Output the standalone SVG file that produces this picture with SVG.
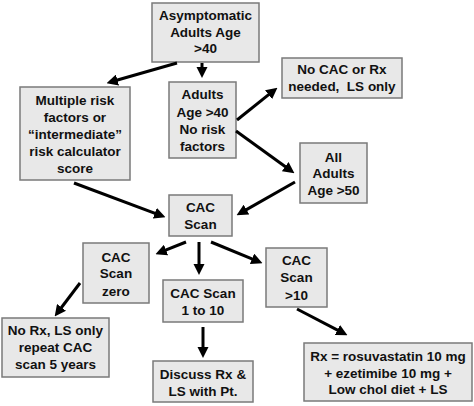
<svg xmlns="http://www.w3.org/2000/svg" width="474" height="406" viewBox="0 0 474 406">
<style>
.box{fill:#e8e8e8;stroke:#7a7a7a;stroke-width:1.5}
.t{font-family:"Liberation Sans",Arial,sans-serif;font-weight:bold;font-size:13.5px;fill:#111;text-anchor:middle}
.arr{stroke:#000;stroke-width:3;fill:none;marker-end:url(#ah)}
</style>
<defs>
<marker id="ah" viewBox="0 0 10 10" refX="4" refY="5" markerWidth="3.8" markerHeight="3.8" orient="auto" markerUnits="strokeWidth">
<path d="M0,0 L10,5 L0,10 Z" fill="#000"/>
</marker>
</defs>
<rect width="474" height="406" fill="#fff"/>
<g id="n1"><rect class="box" x="152" y="3" width="107" height="59"/><text class="t" x="205.5" y="20">Asymptomatic</text><text class="t" x="205.5" y="37">Adults Age</text><text class="t" x="205.5" y="53">&gt;40</text></g>
<g id="n2"><rect class="box" x="20" y="87" width="110" height="93"/><text class="t" x="75" y="105">Multiple risk</text><text class="t" x="75" y="122">factors or</text><text class="t" x="75" y="139">“intermediate”</text><text class="t" x="75" y="156">risk calculator</text><text class="t" x="75" y="173">score</text></g>
<g id="n3"><rect class="box" x="169" y="82" width="67" height="76"/><text class="t" x="202.5" y="99">Adults</text><text class="t" x="202.5" y="117">Age &gt;40</text><text class="t" x="202.5" y="134">No risk</text><text class="t" x="202.5" y="151">factors</text></g>
<g id="n4"><rect class="box" x="282" y="58" width="120" height="40"/><text class="t" x="342" y="74">No CAC or Rx</text><text class="t" x="342" y="91">needed,&#160; LS only</text></g>
<g id="n5"><rect class="box" x="300" y="143" width="67" height="60"/><text class="t" x="333.5" y="162">All</text><text class="t" x="333.5" y="178">Adults</text><text class="t" x="333.5" y="195">Age &gt;50</text></g>
<g id="n6"><rect class="box" x="169" y="195" width="63" height="41"/><text class="t" x="200.5" y="212">CAC</text><text class="t" x="200.5" y="229">Scan</text></g>
<g id="n7"><rect class="box" x="83" y="243" width="66" height="60"/><text class="t" x="116" y="262">CAC</text><text class="t" x="116" y="278">Scan</text><text class="t" x="116" y="296">zero</text></g>
<g id="n8"><rect class="box" x="163" y="280" width="80" height="42"/><text class="t" x="203" y="298">CAC Scan</text><text class="t" x="203" y="315">1 to 10</text></g>
<g id="n9"><rect class="box" x="266" y="248" width="61" height="59"/><text class="t" x="296.5" y="265">CAC</text><text class="t" x="296.5" y="282">Scan</text><text class="t" x="296.5" y="300">&gt;10</text></g>
<g id="n10"><rect class="box" x="2" y="318" width="107" height="59"/><text class="t" x="55.5" y="335">No Rx, LS only</text><text class="t" x="55.5" y="352">repeat CAC</text><text class="t" x="55.5" y="369">scan 5 years</text></g>
<g id="n11"><rect class="box" x="153" y="361" width="100" height="41"/><text class="t" x="203" y="379">Discuss Rx &amp;</text><text class="t" x="203" y="396">LS with Pt.</text></g>
<g id="n12"><rect class="box" x="304" y="343" width="168" height="58"/><text class="t" x="388" y="361">Rx = rosuvastatin 10 mg</text><text class="t" x="388" y="378">+ ezetimibe 10 mg +</text><text class="t" x="388" y="394">Low chol diet + LS</text></g>
<g id="connectors">
<line class="arr" x1="177" y1="63" x2="113.1" y2="81.3"/>
<line class="arr" x1="202" y1="63" x2="202" y2="71.2"/>
<line class="arr" x1="237" y1="120" x2="272.1" y2="91.9"/>
<line class="arr" x1="236" y1="131" x2="288.9" y2="169.3"/>
<line class="arr" x1="295" y1="182" x2="242.5" y2="211.9"/>
<line class="arr" x1="74" y1="183" x2="159.1" y2="214.8"/>
<line class="arr" x1="186" y1="242" x2="161.8" y2="251.7"/>
<line class="arr" x1="199" y1="242" x2="199" y2="268.2"/>
<line class="arr" x1="211" y1="242" x2="256.2" y2="260.6"/>
<line class="arr" x1="80" y1="283" x2="58.8" y2="311"/>
<line class="arr" x1="203" y1="327" x2="203" y2="351.2"/>
<line class="arr" x1="297" y1="309" x2="341.4" y2="332.1"/>
</g>
</svg>
